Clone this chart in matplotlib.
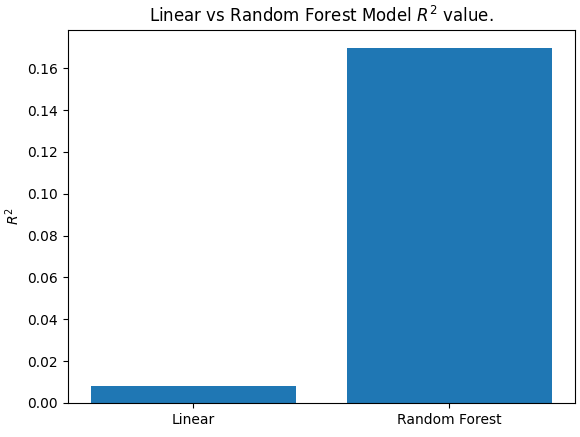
import matplotlib
matplotlib.use("Agg")
import matplotlib.pyplot as plt

# model names and their R^2 scores
models = ["Linear", "Random Forest"]
r2_scores = [0.0082, 0.1697]

fig, ax = plt.subplots(figsize=(5.8, 4.37), dpi=100)
fig.subplots_adjust(left=0.117, right=0.991, top=0.931, bottom=0.078)

ax.bar(models, r2_scores, color="#1f77b4")
ax.set_title("Linear vs Random Forest Model $R^2$ value.")
ax.set_ylabel("$R^2$")

fig.savefig("out.png", dpi=100)
